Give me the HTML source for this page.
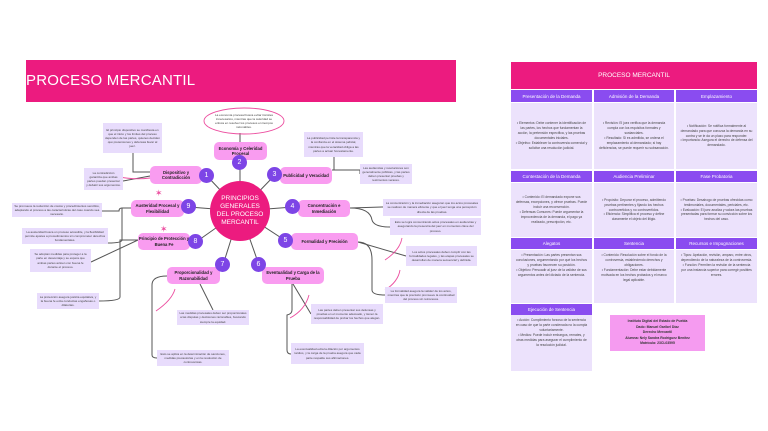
<!DOCTYPE html>
<html><head><meta charset="utf-8"><style>
*{margin:0;padding:0;box-sizing:border-box}
body{width:768px;height:431px;background:#fff;position:relative;overflow:hidden;font-family:"Liberation Sans",sans-serif}
.a{position:absolute}
.node{position:absolute;background:#f99cf0;border-radius:5px;font-weight:bold;font-size:4.2px;color:#222;display:flex;align-items:center;justify-content:center;text-align:center;line-height:1.25}
.num{position:absolute;width:15px;height:15px;border-radius:50%;background:#7d45e6;color:#fff;font-size:7px;display:flex;align-items:center;justify-content:center}
.note{position:absolute;background:#e8dcfc;font-size:3px;color:#444;text-align:center;line-height:1.35;padding:1px 2px;display:flex;align-items:center;justify-content:center}
.th{position:absolute;background:#8a4cf0;color:#fff;font-size:4.5px;display:flex;align-items:center;justify-content:center}
.td{position:absolute;background:#ece2fc;font-size:3.3px;color:#444;line-height:1.5;padding:3px 4px;text-align:center;display:flex;align-items:center;justify-content:center}
</style></head><body>
<div class="a" style="left:26px;top:60px;width:430px;height:42px;background:#ec1b7f"></div>
<div class="a" style="left:26px;top:72px;color:#fff;font-size:15px;letter-spacing:0.2px">PROCESO MERCANTIL</div>

<svg class="a" style="left:0;top:0" width="768" height="431">
<g stroke="#555" stroke-width="1" fill="none">
<line x1="240" y1="211" x2="207" y2="176"/><line x1="240" y1="211" x2="240" y2="163"/><line x1="240" y1="211" x2="275" y2="175"/>
<line x1="240" y1="211" x2="293" y2="207"/><line x1="240" y1="211" x2="286" y2="241"/><line x1="240" y1="211" x2="259" y2="265"/>
<line x1="240" y1="211" x2="223" y2="265"/><line x1="240" y1="211" x2="196" y2="242"/><line x1="240" y1="211" x2="189" y2="207"/>
<line x1="240" y1="142" x2="240" y2="133"/>
<path d="M150 172 H133 V153"/><path d="M150 176 L123 181"/>
<path d="M332 170 H334 V157"/><path d="M334 170 H360 V174"/>
<path d="M350 208 L383 207"/><path d="M350 208 Q370 208 372 220 Q374 227 390 227"/>
<path d="M358 242 L406 256"/><path d="M358 242 Q372 242 372 260 V290 Q372 295 385 295"/>
<path d="M293 284 L311 314"/><path d="M292 284 V310 Q292 314 287 315 V350 Q287 354 291 354"/>
<path d="M200 284 L213 310"/><path d="M167 276 Q152 276 152 285 V355 Q152 358 157 358"/>
<path d="M131 208 H122 Q119 208 119 211 L102 211"/><path d="M131 208 H122 V240 Q122 243 108 243"/>
<path d="M138 240 H120 V297 Q120 301 99 301"/><path d="M138 240 L91 262"/>
</g>
<g stroke="#ec4fa0" stroke-width="0.9" fill="none">
<ellipse cx="244" cy="121" rx="40" ry="13"/>
<path d="M150 178 Q135 180 120 177"/>
<path d="M156 311 Q172 300 175 289"/><path d="M290 318 Q305 310 309 295"/><path d="M385 260 Q400 250 402 238"/><path d="M385 290 Q398 282 400 270"/>
</g>
<text x="155" y="196" fill="#ec4fa0" font-size="9">✶</text>
<text x="160" y="232" fill="#ec4fa0" font-size="9">✶</text>
</svg>

<div class="a" style="left:210px;top:181px;width:60px;height:60px;border-radius:50%;background:#ec1b7f;color:#fff;font-size:6.5px;text-align:center;display:flex;align-items:center;justify-content:center;line-height:1.2">PRINCIPIOS<br>GENERALES<br>DEL PROCESO<br>MERCANTIL</div>

<div class="node" style="left:150px;top:166px;width:52px;height:18px">Dispositivo y<br>Contradicción</div><div class="num" style="left:199px;top:168px">1</div>
<div class="node" style="left:214px;top:142px;width:53px;height:18px">Economía y Celeridad<br>Procesal</div><div class="num" style="left:232px;top:155px">2</div>
<div class="node" style="left:280px;top:167px;width:52px;height:17px">Publicidad y Veracidad</div><div class="num" style="left:267px;top:167px">3</div>
<div class="node" style="left:298px;top:200px;width:52px;height:17px">Concentración e<br>Inmediación</div><div class="num" style="left:285px;top:199px">4</div>
<div class="node" style="left:291px;top:233px;width:67px;height:17px">Formalidad y Precisión</div><div class="num" style="left:278px;top:233px">5</div>
<div class="node" style="left:262px;top:267px;width:62px;height:17px">Eventualidad y Carga de la<br>Prueba</div><div class="num" style="left:251px;top:257px">6</div>
<div class="node" style="left:167px;top:267px;width:53px;height:17px">Proporcionalidad y<br>Razonabilidad</div><div class="num" style="left:215px;top:257px">7</div>
<div class="node" style="left:138px;top:233px;width:52px;height:17px">Principio de Protección y<br>Buena Fe</div><div class="num" style="left:188px;top:234px">8</div>
<div class="node" style="left:131px;top:200px;width:53px;height:17px">Austeridad Procesal y<br>Flexibilidad</div><div class="num" style="left:181px;top:199px">9</div>

<div class="note" style="left:212px;top:112px;width:64px;height:18px;background:transparent">La economía procesal busca evitar trámites innecesarios, mientras que la celeridad se enfoca en resolver los procesos en tiempos razonables.</div>
<div class="note" style="left:103px;top:123px;width:59px;height:30px">El principio dispositivo se manifiesta en que el inicio y los límites del proceso dependen de las partes, quienes deciden qué pretensiones y defensas llevar al juez.</div>
<div class="note" style="left:84px;top:168px;width:39px;height:22px">La contradicción garantiza que ambas partes puedan presentar y debatir sus argumentos.</div>
<div class="note" style="left:304px;top:132px;width:59px;height:25px">La publicidad permite la transparencia y la confianza en el sistema judicial, mientras que la veracidad obliga a las partes a actuar honestamente.</div>
<div class="note" style="left:360px;top:164px;width:52px;height:20px">Las audiencias y resoluciones son generalmente públicas, y las partes deben presentar pruebas y testimonios veraces.</div>
<div class="note" style="left:383px;top:199px;width:98px;height:17px">La concentración y la inmediación aseguran que los actos procesales se realicen de manera eficiente y que el juez tenga una percepción directa de las pruebas.</div>
<div class="note" style="left:390px;top:218px;width:91px;height:17px">Esto se logra concentrando actos procesales en audiencias y asegurando la presencia del juez en momentos clave del proceso.</div>
<div class="note" style="left:406px;top:246px;width:71px;height:20px">Los actos procesales deben cumplir con las formalidades legales, y las etapas procesales se desarrollan de manera secuencial y definida.</div>
<div class="note" style="left:385px;top:287px;width:72px;height:16px">La formalidad asegura la validez de los actos, mientras que la precisión promueve la continuidad del proceso sin retrocesos.</div>
<div class="note" style="left:311px;top:304px;width:72px;height:20px">Las partes deben presentar sus defensas y pruebas en el momento adecuado, y tienen la responsabilidad de probar los hechos que alegan.</div>
<div class="note" style="left:291px;top:343px;width:73px;height:21px">La eventualidad evita la dilación por argumentos tardíos, y la carga de la prueba asegura que cada parte respalde sus afirmaciones.</div>
<div class="note" style="left:177px;top:310px;width:72px;height:15px">Las medidas procesales deben ser proporcionales a las disputas y decisiones razonables, buscando siempre la equidad.</div>
<div class="note" style="left:157px;top:350px;width:72px;height:16px">Esto se aplica en la determinación de sanciones, medidas precautorias y en la resolución de controversias.</div>
<div class="note" style="left:12px;top:203px;width:90px;height:14px">Se promueve la reducción de costos y procedimientos sencillos, adaptando el proceso a las características del caso cuando sea necesario.</div>
<div class="note" style="left:22px;top:228px;width:86px;height:16px">La austeridad busca un proceso accesible, y la flexibilidad permite ajustes a procedimientos sin comprometer derechos fundamentales.</div>
<div class="note" style="left:30px;top:249px;width:61px;height:23px">Se adoptan medidas para proteger a la parte en desventaja y se espera que ambas partes actúen con buena fe durante el proceso.</div>
<div class="note" style="left:37px;top:293px;width:62px;height:16px">La protección asegura justicia equitativa, y la buena fe evita conductas engañosas o dilatorias.</div>

<div class="a" style="left:511px;top:62px;width:246px;height:27px;background:#ec1b7f;color:#fff;font-size:6.5px;display:flex;align-items:center;justify-content:center">PROCESO MERCANTIL</div>
<div class="th" style="left:511px;top:90px;width:81px;height:12px">Presentación de la Demanda</div>
<div class="th" style="left:594px;top:90px;width:80px;height:12px">Admisión de la Demanda</div>
<div class="th" style="left:676px;top:90px;width:81px;height:12px">Emplazamiento</div>
<div class="td" style="left:511px;top:103px;width:81px;height:66px">• Elementos: Debe contener la identificación de las partes, los hechos que fundamentan la acción, la pretensión específica, y las pruebas documentales iniciales.<br>• Objetivo: Establecer la controversia comercial y solicitar una resolución judicial.</div>
<div class="td" style="left:594px;top:103px;width:80px;height:66px">• Revisión: El juez verifica que la demanda cumpla con los requisitos formales y sustanciales.<br>• Resultado: Si es admitida, se ordena el emplazamiento al demandado; si hay deficiencias, se puede requerir su subsanación.</div>
<div class="td" style="left:676px;top:103px;width:81px;height:66px">• Notificación: Se notifica formalmente al demandado para que conozca la demanda en su contra y se le da un plazo para responder.<br>• Importancia: Asegura el derecho de defensa del demandado.</div>
<div class="th" style="left:511px;top:171px;width:81px;height:11px">Contestación de la Demanda</div>
<div class="th" style="left:594px;top:171px;width:80px;height:11px">Audiencia Preliminar</div>
<div class="th" style="left:676px;top:171px;width:81px;height:11px">Fase Probatoria</div>
<div class="td" style="left:511px;top:183px;width:81px;height:54px">• Contenido: El demandado expone sus defensas, excepciones, y ofrece pruebas. Puede incluir una reconvención.<br>• Defensas Comunes: Puede argumentar la improcedencia de la demanda, el pago ya realizado, prescripción, etc.</div>
<div class="td" style="left:594px;top:183px;width:80px;height:54px">• Propósito: Depurar el proceso, admitiendo pruebas pertinentes y fijando los hechos controvertidos y no controvertidos.<br>• Eficiencia: Simplifica el proceso y define claramente el objeto del litigio.</div>
<div class="td" style="left:676px;top:183px;width:81px;height:54px">• Pruebas: Desahogo de pruebas ofrecidas como testimoniales, documentales, periciales, etc.<br>• Evaluación: El juez analiza y valora las pruebas presentadas para formar su convicción sobre los hechos del caso.</div>
<div class="th" style="left:511px;top:238px;width:81px;height:11px">Alegatos</div>
<div class="th" style="left:594px;top:238px;width:80px;height:11px">Sentencia</div>
<div class="th" style="left:676px;top:238px;width:81px;height:11px">Recursos e Impugnaciones</div>
<div class="td" style="left:511px;top:250px;width:81px;height:53px;align-items:flex-start">• Presentación: Las partes presentan sus conclusiones, argumentando por qué los hechos y pruebas favorecen su posición.<br>• Objetivo: Persuadir al juez de la validez de sus argumentos antes del dictado de la sentencia.</div>
<div class="td" style="left:594px;top:250px;width:80px;height:53px;align-items:flex-start">• Contenido: Resolución sobre el fondo de la controversia, estableciendo derechos y obligaciones.<br>• Fundamentación: Debe estar debidamente motivada en los hechos probados y el marco legal aplicable.</div>
<div class="td" style="left:676px;top:250px;width:81px;height:53px;align-items:flex-start">• Tipos: Apelación, revisión, amparo, entre otros, dependiendo de la naturaleza de la controversia.<br>• Función: Permiten la revisión de la sentencia por una instancia superior para corregir posibles errores.</div>
<div class="th" style="left:511px;top:304px;width:81px;height:11px">Ejecución de Sentencia</div>
<div class="td" style="left:511px;top:315px;width:81px;height:56px;align-items:flex-start">• Acción: Cumplimiento forzoso de la sentencia en caso de que la parte condenada no la cumpla voluntariamente.<br>• Medios: Puede incluir embargos, remates, y otras medidas para asegurar el cumplimiento de la resolución judicial.</div>
<div class="a" style="left:610px;top:315px;width:95px;height:36px;background:#f59bf0;font-size:3.4px;font-weight:bold;color:#333;text-align:center;line-height:1.6;display:flex;align-items:center;justify-content:center">Instituto Digital del Estado de Puebla<br>Dado: Manuel Garibel Díaz<br>Derecho Mercantil<br>Alumna: Nely Sandra Rodríguez Benítez<br>Matrícula: 23CL03595</div>
</body></html>
